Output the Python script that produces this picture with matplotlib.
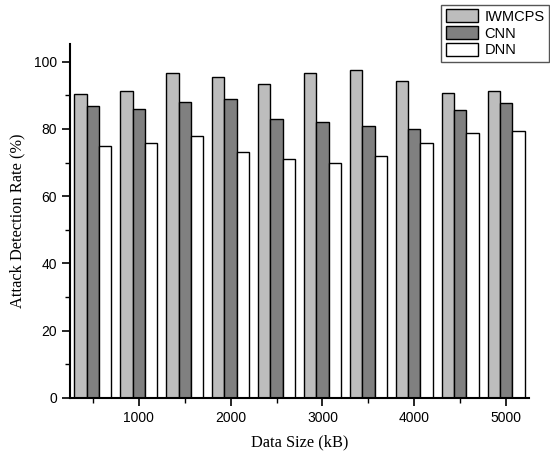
import matplotlib
matplotlib.use("Agg")
import matplotlib.pyplot as plt
import numpy as np
from matplotlib.ticker import MultipleLocator

data_size = [500, 1000, 1500, 2000, 2500, 3000, 3500, 4000, 4500, 5000]
iwmcps = [90.3, 91.3, 96.7, 95.4, 93.5, 96.6, 97.6, 94.3, 90.8, 91.2]
cnn = [86.9, 85.9, 88.0, 88.9, 83.0, 82.0, 81.0, 80.0, 85.7, 87.8]
dnn = [75.0, 75.9, 78.0, 73.0, 71.1, 69.9, 72.0, 75.9, 78.9, 79.4]
series_names = ["IWMCPS", "CNN", "DNN"]
colors = ["#bdbdbd", "#808080", "#ffffff"]

plt.rcParams["font.family"] = ["Liberation Sans", "DejaVu Sans"]

fig = plt.figure(figsize=(5.5, 4.53), dpi=100)
ax = fig.add_axes([70/550, 1-397.7/453, (529-70)/550, (397.7-44)/453])

x = np.array(data_size, dtype=float)
w = 134
for i, (vals, name, c) in enumerate(zip([iwmcps, cnn, dnn], series_names, colors)):
    ax.bar(x + (i-1)*w, vals, width=w, color=c, edgecolor="black", linewidth=1.0, label=name)

ax.set_xlim(250, 5250)
ax.set_ylim(0, 105.3)
ax.xaxis.set_major_locator(MultipleLocator(1000))
ax.xaxis.set_minor_locator(MultipleLocator(500))
ax.yaxis.set_major_locator(MultipleLocator(20))
ax.yaxis.set_minor_locator(MultipleLocator(10))
ax.spines["top"].set_visible(False)
ax.spines["right"].set_visible(False)
ax.spines["left"].set_linewidth(1.5)
ax.spines["bottom"].set_linewidth(1.5)
ax.tick_params(which="major", direction="out", length=6, width=1.2, labelsize=10)
ax.tick_params(which="minor", direction="out", length=3.5, width=1.0)

ax.set_xlabel("Data Size (kB)", fontfamily="Liberation Serif", fontsize=11.8, labelpad=7)
ax.set_ylabel("Attack Detection Rate (%)", fontfamily="Liberation Serif", fontsize=11.8, labelpad=6)

leg = ax.legend(loc="upper right", bbox_to_anchor=(549/550, 1-5/453), bbox_transform=fig.transFigure,
                borderaxespad=0, fancybox=False, framealpha=1, edgecolor="#555555",
                prop={"family": "Liberation Sans", "size": 10.5}, labelspacing=0.15,
                handlelength=2.2, handleheight=1.0, handletextpad=0.45, borderpad=0.3)
leg.get_frame().set_linewidth(1.0)

fig.savefig("out.png", dpi=100)
